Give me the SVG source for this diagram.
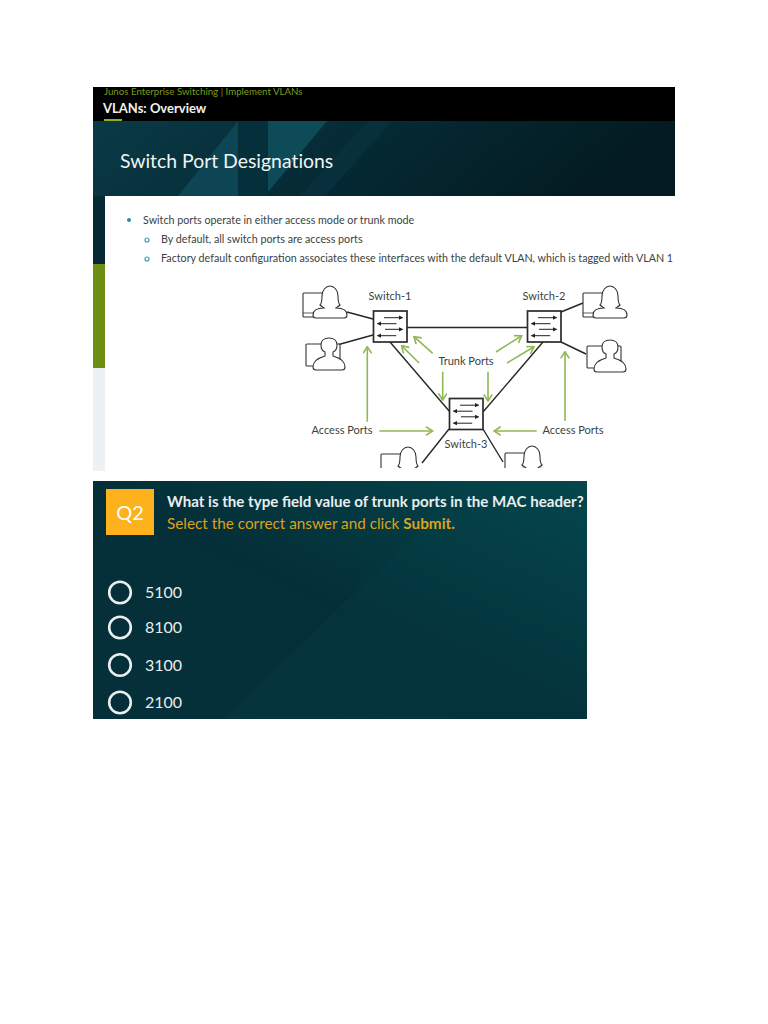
<svg xmlns="http://www.w3.org/2000/svg" width="768" height="1024" viewBox="0 0 768 1024">
<style>
text{font-family:Lato,"Open Sans","Liberation Sans",sans-serif}
.body{font-size:10.730px;fill:#3a3f42}
.lbl{font-size:11px;fill:#3a3f42}
.opt{font-size:16px;fill:#e8eeee}
.ln{stroke:#262626;stroke-width:1.400;fill:none}
.gr{stroke:#8fb855;stroke-width:1.600;fill:none;marker-end:url(#ga)}
.sw{fill:#fff;stroke:#2b2b2b;stroke-width:1.700}
.ic{fill:#fff;stroke:#333;stroke-width:1.100}
.ring{fill:none;stroke:#e9eeee;stroke-width:2.600}
</style>
<defs>
<marker id="ga" viewBox="0 0 10 10" refX="9" refY="5" markerWidth="9.500" markerHeight="9.500" markerUnits="userSpaceOnUse" orient="auto"><path d="M2 0.500L9 5L2 9.500" fill="none" stroke="#8fb855" stroke-width="1.700"/></marker>
<marker id="ka" viewBox="0 0 6 6" refX="5" refY="3" markerWidth="4.500" markerHeight="4.500" markerUnits="userSpaceOnUse" orient="auto"><path d="M0 0L6 3L0 6Z" fill="#222"/></marker>
<linearGradient id="top" x1="0" y1="0" x2="1" y2="0.150"><stop offset="0" stop-color="#0a3a46"/><stop offset="0.500" stop-color="#052a34"/><stop offset="1" stop-color="#031a20"/></linearGradient>
<linearGradient id="q" x1="0" y1="1" x2="1" y2="0"><stop offset="0" stop-color="#05303a"/><stop offset="0.500" stop-color="#052f38"/><stop offset="1" stop-color="#04474d"/></linearGradient>
<g id="swg"><rect class="sw" x="0" y="0" width="33.500" height="31"/>
<g stroke="#222" stroke-width="1" marker-end="url(#ka)"><path d="M10.500 6.700H29"/><path d="M23 12.700H4"/><path d="M11.500 18.300H29"/><path d="M22.700 24.700H4"/></g></g>
<g id="fem"><rect class="ic" x="-27" y="-7" width="21" height="24" rx="1"/><path d="M-27 13H-12" stroke="#333" stroke-width="0.800"/>
<path class="ic" d="M-17 15c0-5 5-7 11-7-1-1-3-2-4-3 2-2 2-6 2-9 0-6 4-10 8-10s8 4 8 10c0 3 0 7 2 9-1 1-3 2-4 3 6 0 11 2 11 7 0 2-1 3-3 3h-28c-2 0-3-1-3-3z"/></g>
<g id="mal"><rect class="ic" x="-23" y="-3" width="34" height="22" rx="1"/>
<path class="ic" d="M-16 20c0-6 5-9 12-11v-4c-3-1-4-4-4-7 0-4 3-7 8-7s8 3 8 7c0 3-1 6-4 7v4c7 2 12 5 12 11 0 2-1 3-3 3h-26c-2 0-3-1-3-3z"/></g>
<clipPath id="cut"><rect x="93" y="196" width="582" height="272"/></clipPath>
</defs>
<rect width="768" height="1024" fill="#fff"/>

<g id="top-banner">
<rect x="93" y="121" width="582" height="75" fill="url(#top)"/>
<path d="M178 196L238 121V196Z" fill="#0d4554"/>
<path d="M238 121H268V196H238Z" fill="#05303b"/>
<path d="M268 121H327L268 192Z" fill="#0d4b59"/>
<path d="M300 196L368 121H392L325 196Z" fill="#0a3642" opacity="0.600"/>
<rect x="93" y="87" width="582" height="34" fill="#000"/>
<rect x="104" y="119" width="18" height="2" fill="#8cb021"/>
<text x="104" y="95" font-size="9.700" fill="#7e9b1e">Junos Enterprise Switching | Implement VLANs</text>
<text x="103" y="113" font-size="13" font-weight="700" fill="#f2f2f2">VLANs: Overview</text>
<text x="120" y="168" font-size="19.400" fill="#f0f4f4" style="font-variant-ligatures:none">Switch Port Designations</text>
</g>

<g id="side-bar">
<rect x="93" y="196" width="12" height="68" fill="#052a34"/>
<rect x="93" y="264" width="12" height="104" fill="#6f8f14"/>
<rect x="93" y="368" width="12" height="103" fill="#eef1f3"/>
</g>

<g id="bullets">
<circle cx="129" cy="220" r="2" fill="#1f8fae"/>
<circle cx="147" cy="240" r="2" fill="none" stroke="#3f9cb5" stroke-width="1.200"/>
<circle cx="147" cy="259" r="2" fill="none" stroke="#3f9cb5" stroke-width="1.200"/>
<text class="body" x="143" y="224">Switch ports operate in either access mode or trunk mode</text>
<text class="body" x="161" y="243">By default, all switch ports are access ports</text>
<text class="body" x="161" y="262">Factory default configuration associates these interfaces with the default VLAN, which is tagged with VLAN 1</text>
</g>

<g id="connectors">
<path class="ln" d="M347 312L373 319"/>
<path class="ln" d="M337 345L373 335"/>
<path class="ln" d="M561 312L583 303"/>
<path class="ln" d="M561 342L586 354"/>
<path class="ln" d="M407 327.500H527"/>
<path class="ln" d="M390 342L450 412"/>
<path class="ln" d="M543 342L483 412"/>
<path class="ln" d="M449 429L422 463"/>
<path class="ln" d="M483 429L503 462"/>
<path class="gr" d="M432.700 353.300L414 336.700"/>
<path class="gr" d="M419 363L401.700 345.700"/>
<path class="gr" d="M496 352L521.700 335.700"/>
<path class="gr" d="M507 363L534 346.700"/>
<path class="gr" d="M442.700 371.700V400"/>
<path class="gr" d="M488 371.700V401"/>
<path class="gr" d="M367.300 421.700V346.700"/>
<path class="gr" d="M565 421V351.700"/>
<path class="gr" d="M379.300 431H432.700"/>
<path class="gr" d="M536.700 431H494"/>
</g>

<g id="switch-1"><use href="#swg" x="373.500" y="311"/><text class="lbl" x="390" y="300" text-anchor="middle">Switch-1</text></g>
<g id="switch-2"><use href="#swg" x="527.500" y="311"/><text class="lbl" x="544" y="300" text-anchor="middle">Switch-2</text></g>
<g id="switch-3"><use href="#swg" x="449.500" y="398.500"/><text class="lbl" x="466" y="448" text-anchor="middle">Switch-3</text></g>
<g id="user-1"><use href="#fem" x="330" y="300"/></g>
<g id="user-2"><use href="#mal" x="329" y="347"/></g>
<g id="user-3"><use href="#fem" x="610" y="300"/></g>
<g id="user-4"><use href="#mal" x="610" y="349"/></g>
<g clip-path="url(#cut)">
<g id="user-5"><use href="#fem" x="408" y="461"/></g>
<g id="user-6"><use href="#fem" x="532" y="460"/></g>
</g>
<g id="label-trunk"><text class="lbl" x="466" y="365" text-anchor="middle">Trunk Ports</text></g>
<g id="label-access-left"><text class="lbl" x="342" y="434" text-anchor="middle">Access Ports</text></g>
<g id="label-access-right"><text class="lbl" x="573" y="434" text-anchor="middle">Access Ports</text></g>

<g id="question">
<rect x="93" y="481" width="494" height="238" fill="url(#q)"/>
<path d="M224 719L470 481H587V719Z" fill="#05464d" opacity="0.180"/>
<rect x="106" y="489" width="48" height="46" fill="#fdb21d"/>
<text x="130" y="520" font-size="20" fill="#fff" text-anchor="middle">Q2</text>
<text x="167" y="507" font-size="15.100" font-weight="700" fill="#e8eeee">What is the type field value of trunk ports in the MAC header?</text>
<text x="167" y="529" font-size="15.300" font-weight="400" fill="#dca21a">Select the correct answer and click <tspan font-weight="700">Submit.</tspan></text>
</g>
<g id="option-1"><circle class="ring" cx="120" cy="592.500" r="10.800"/><text class="opt" x="145" y="598">5100</text></g>
<g id="option-2"><circle class="ring" cx="120" cy="627.500" r="10.800"/><text class="opt" x="145" y="633">8100</text></g>
<g id="option-3"><circle class="ring" cx="120" cy="665" r="10.800"/><text class="opt" x="145" y="670.500">3100</text></g>
<g id="option-4"><circle class="ring" cx="120" cy="702.500" r="10.800"/><text class="opt" x="145" y="708">2100</text></g>
</svg>
